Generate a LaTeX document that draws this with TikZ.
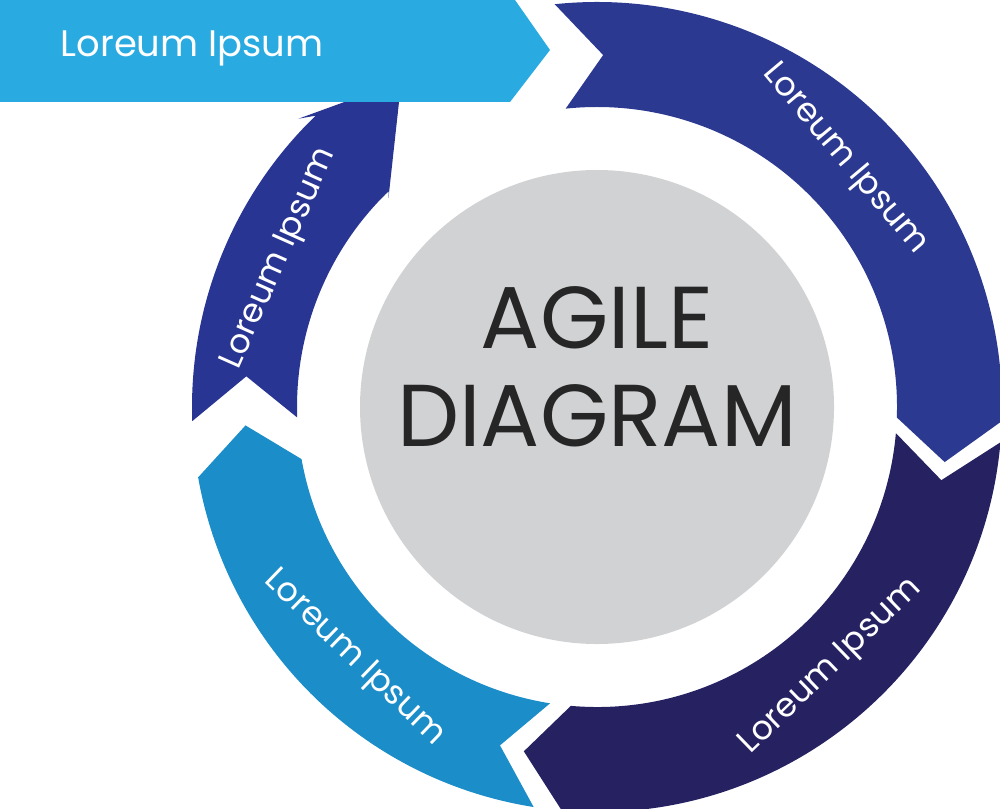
\documentclass[tikz,border=0pt]{standalone}
\usetikzlibrary{calc}
\usepackage{fontspec}
\setmainfont{Poppins}
\definecolor{cban}{HTML}{29ABE2}
\definecolor{ctr}{HTML}{2B3990}
\definecolor{cbr}{HTML}{262262}
\definecolor{cbl}{HTML}{1B8DC9}
\definecolor{cl}{HTML}{283592}
\definecolor{cgray}{HTML}{D1D2D4}
\begin{document}
\begin{tikzpicture}[lab/.style={text=white,font=\fontsize{9.5}{11}\selectfont}]
\useasboundingbox (0,0) rectangle (10,8.08);
\coordinate (c) at (5.97,4.01);
\newcommand{\arcseg}[4]{%
  \fill[#1] ($(c)+(#2:4.05)$) arc[start angle=#2,end angle=#3,radius=4.05]
   -- ($(c)+({#3-#4}:3.52)$) -- ($(c)+(#3:3.0)$)
   arc[start angle=#3,end angle=#2,radius=3.0]
   -- ($(c)+({#2-#4}:3.52)$) -- cycle;}
\arcseg{ctr}{96}{-2}{7}
\arcseg{cbr}{-5}{-95}{7}
\arcseg{cbl}{-99}{-170}{7}
\fill[cl] ($(c)+(-178:4.05)$) arc[start angle=182,end angle=134,radius=4.05]
  -- ($(c)+(136:4.15)$) -- ($(c)+(121:3.8)$) -- ($(c)+(135:2.95)$)
  -- ($(c)+(134:3.0)$) arc[start angle=134,end angle=182,radius=3.0]
  -- ($(c)+(175:3.52)$) -- cycle;
\fill[cban] (0,8.08) -- (5.15,8.08) -- (5.5,7.58) -- (5.1,7.06) -- (0,7.06) -- cycle;
\node[lab,font=\fontsize{10.5}{12}\selectfont] (b) at (1.92,7.6) {Loreum Ipsum};
\node[circle,fill=cgray,minimum size=4.74cm,inner sep=0] (ctr) at (c) {};
\node[align=center,font=\fontsize{25}{28}\selectfont,text=black!85] (title) at ($(c)+(0,0.4)$) {AGILE\\DIAGRAM};
\node[lab,rotate=-50] (t1) at ($(c)+(45:3.5)$) {Loreum Ipsum};
\node[lab,rotate=44] (t2) at ($(c)+(-48:3.5)$) {Loreum Ipsum};
\node[lab,rotate=-44] (t3) at ($(c)+(-134:3.5)$) {Loreum Ipsum};
\node[lab,rotate=66] (t4) at ($(c)+(155:3.5)$) {Loreum Ipsum};
\end{tikzpicture}
\end{document}
